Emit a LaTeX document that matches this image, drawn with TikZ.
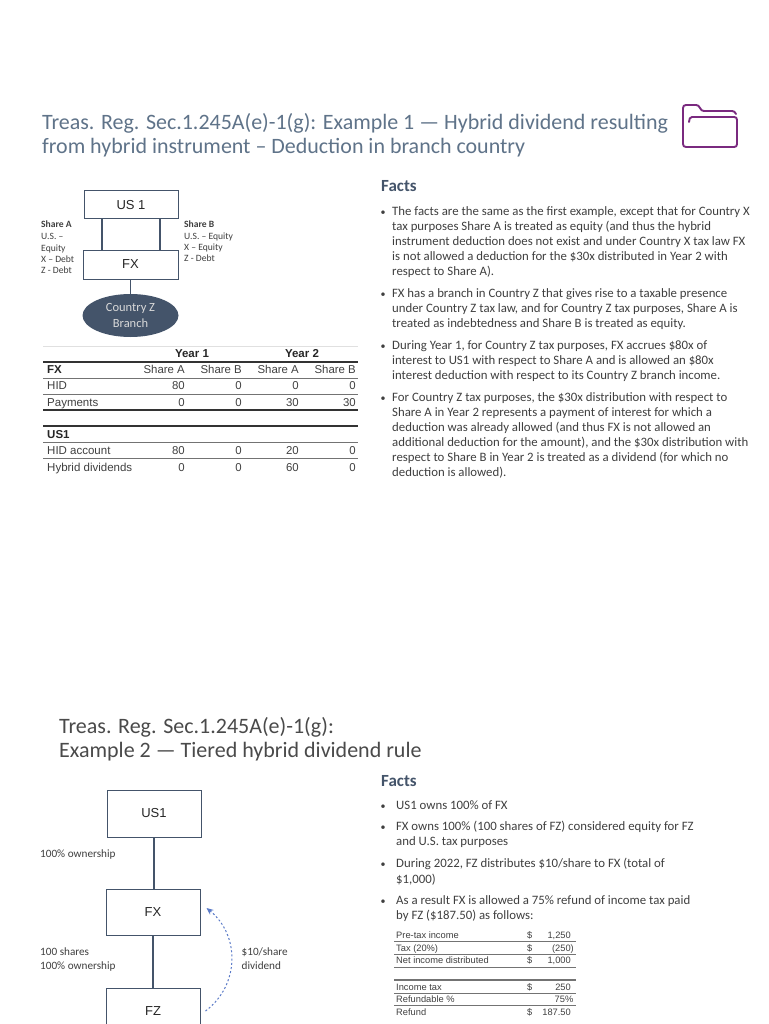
\documentclass[tikz,border=0pt]{standalone}
\usepackage{fontspec}
\setmainfont{Carlito}
\newfontfamily\arialf{Liberation Sans}
\usetikzlibrary{arrows.meta,shapes.geometric}
\definecolor{slate}{HTML}{44546A}
\definecolor{titleblue}{HTML}{5F7389}
\definecolor{titlegrey}{HTML}{4A4A4A}
\definecolor{bodygrey}{HTML}{3F3F3F}
\definecolor{purp}{HTML}{7A2A7F}
\definecolor{dotblue}{HTML}{5B7BC8}
\tikzset{
  x=1pt,y=-1pt,
  tline/.style={anchor=base west,inner sep=0pt,font=\fontsize{21.95}{24}\selectfont,text=titleblue},
  tlinetwo/.style={anchor=base west,inner sep=0pt,font=\fontsize{22}{24}\selectfont,text=titlegrey},
  head/.style={anchor=base west,inner sep=0pt,font=\fontsize{17}{18}\selectfont\bfseries,text=slate},
  body/.style={anchor=base west,inner sep=0pt,font=\fontsize{12.8}{15}\selectfont,text=bodygrey},
  bul/.style={anchor=base,inner sep=0pt,font=\fontsize{10}{15}\selectfont,text=bodygrey},
  lab/.style={anchor=base west,inner sep=0pt,font=\fontsize{9.6}{12}\selectfont,text=bodygrey},
  labb/.style={anchor=base west,inner sep=0pt,font=\fontsize{9.6}{12}\selectfont\bfseries,text=bodygrey},
  labtwo/.style={anchor=base west,inner sep=0pt,font=\fontsize{11.2}{13}\selectfont,text=bodygrey},
  ent/.style={draw=slate,line width=1pt,fill=white,inner sep=0pt,font=\arialf\fontsize{13}{16}\selectfont,text=black!85},
  conn/.style={draw=slate,line width=1.6pt},
  cellL/.style={anchor=base west,inner sep=0pt,font=\arialf\fontsize{11.5}{14}\selectfont,text=black!75},
  cellB/.style={anchor=base west,inner sep=0pt,font=\arialf\fontsize{11.5}{14}\selectfont\bfseries,text=black!85},
  cellR/.style={anchor=base east,inner sep=0pt,font=\arialf\fontsize{11.4}{14}\selectfont,text=black!75},
  cellY/.style={anchor=base,inner sep=0pt,font=\arialf\fontsize{11.5}{14}\selectfont\bfseries,text=black!85},
  smL/.style={anchor=base west,inner sep=0pt,font=\arialf\fontsize{9.3}{12}\selectfont,text=black!75},
  smR/.style={anchor=base east,inner sep=0pt,font=\arialf\fontsize{9.3}{12}\selectfont,text=black!75},
  rulethick/.style={draw=black!80,line width=1.1pt},
  rulethin/.style={draw=black!55,line width=0.9pt},
  rulesm/.style={draw=black!55,line width=0.8pt},
  dotarrow/.style={draw=dotblue,line width=1pt,dash pattern=on 2pt off 2.2pt,-{Stealth[length=7pt,width=6pt]}},
  folder/.style={draw=purp,line width=1.9pt,line cap=round,line join=round},
}
\begin{document}
\begin{tikzpicture}
\useasboundingbox (0,0) rectangle (768,1024);
\clip (0,0) rectangle (768,1024);
\fill[white] (0,0) rectangle (768,1024);

% Title 1
\node[tline] (t1a) at (42,130) {Treas. Reg. Sec.1.245A(e)-1(g): Example 1 — Hybrid dividend resulting};
\node[tline] (t1b) at (42,154) {from hybrid instrument – Deduction in branch country};

% Folder
\draw[folder] (686,105) -- (696,105) .. controls (698,105) and (699,106) .. (700,108) .. controls (701,110) and (702,111) .. (704,111) -- (732,111) .. controls (734,111) and (735,112) .. (736,114);
\draw[folder] (686,105) .. controls (684,105) and (683,106) .. (683,108) -- (683,144) .. controls (683,146) and (684,147) .. (686,147) -- (734,147) .. controls (736,147) and (737,146) .. (737,144) -- (737,120) .. controls (737,118) and (736,117) .. (734,117) -- (692,117) .. controls (690,117) and (689,119) .. (689,122);

% Diagram 1
\node[ent,minimum width=94pt,minimum height=28pt] (us) at (131,205) {US 1};
\node[ent,minimum width=95pt,minimum height=29pt] (fx) at (130.5,264.5) {FX};
\node[ellipse,fill=slate,minimum width=96pt,minimum height=43pt,inner sep=0pt,align=center,font=\fontsize{12.5}{15.5}\selectfont,text=white!85!black] (branch) at (130.5,315.5) {Country Z\\Branch};
\draw[conn] ([xshift=-29pt]us.south) -- ([xshift=-29pt]us.south |- fx.north);
\draw[conn] ([xshift=29pt]us.south) -- ([xshift=29pt]us.south |- fx.north);
\draw[conn] (fx.south) -- (branch.north);

\node[labb] (sa0) at (41,228) {Share A};
\node[lab] (sa1) at (41,240) {U.S. –};
\node[lab] (sa2) at (41,251.5) {Equity};
\node[lab] (sa3) at (41,262.5) {X – Debt};
\node[lab] (sa4) at (41,273.5) {Z - Debt};
\node[labb] (sb0) at (184,227) {Share B};
\node[lab] (sb1) at (184,239.5) {U.S. – Equity};
\node[lab] (sb2) at (184,250.5) {X – Equity};
\node[lab] (sb3) at (184,261.5) {Z - Debt};

% Table 1
\draw[draw=black!12,line width=0.6pt] (43,346) -- (358,346);
\draw[rulethick] (43,362) -- (358,362);
\draw[rulethin] (43,378) -- (358,378);
\draw[rulethin] (43,394) -- (358,394);
\draw[rulethick] (43,410) -- (358,410);
\draw[rulethick] (43,426) -- (358,426);
\draw[rulethin] (43,442) -- (358,442);
\draw[rulethin] (43,458) -- (358,458);

\node[cellY] (y1) at (192,357) {Year 1};
\node[cellY] (y2) at (302,357) {Year 2};
\node[cellB] (rfx) at (47,373.5) {FX};
\node[cellR] (h1) at (185,373.5) {Share A};
\node[cellR] (h2) at (242,373.5) {Share B};
\node[cellR] (h3) at (299,373.5) {Share A};
\node[cellR] (h4) at (356,373.5) {Share B};
\node[cellL] (rhid) at (47,389.5) {HID};
\node[cellR] (a1) at (185,389.5) {80};
\node[cellR] (a2) at (242,389.5) {0};
\node[cellR] (a3) at (299,389.5) {0};
\node[cellR] (a4) at (356,389.5) {0};
\node[cellL] (rpay) at (47,406) {Payments};
\node[cellR] (b1) at (185,406) {0};
\node[cellR] (b2) at (242,406) {0};
\node[cellR] (b3) at (299,406) {30};
\node[cellR] (b4) at (356,406) {30};
\node[cellB] (rus) at (47,438.5) {US1};
\node[cellL] (racc) at (47,454.5) {HID account};
\node[cellR] (c1) at (185,454.5) {80};
\node[cellR] (c2) at (242,454.5) {0};
\node[cellR] (c3) at (299,454.5) {20};
\node[cellR] (c4) at (356,454.5) {0};
\node[cellL] (rdiv) at (47,471) {Hybrid dividends};
\node[cellR] (d1) at (185,471) {0};
\node[cellR] (d2) at (242,471) {0};
\node[cellR] (d3) at (299,471) {60};
\node[cellR] (d4) at (356,471) {0};

% Facts 1
\node[head] (f1) at (381,192) {Facts};
\node[bul] (b1a) at (383,215) {•};
\node[body] (p1) at (392,215) {The facts are the same as the first example, except that for Country X};
\node[body] (p2) at (392,230) {tax purposes Share A is treated as equity (and thus the hybrid};
\node[body] (p3) at (392,245) {instrument deduction does not exist and under Country X tax law FX};
\node[body] (p4) at (392,260) {is not allowed a deduction for the \$30x distributed in Year 2 with};
\node[body] (p5) at (392,275) {respect to Share A).};
\node[bul] (b1b) at (383,297) {•};
\node[body] (p6) at (392,297) {FX has a branch in Country Z that gives rise to a taxable presence};
\node[body] (p7) at (392,312.5) {under Country Z tax law, and for Country Z tax purposes, Share A is};
\node[body] (p8) at (392,327.5) {treated as indebtedness and Share B is treated as equity.};
\node[bul] (b1c) at (383,349) {•};
\node[body] (p9) at (392,349) {During Year 1, for Country Z tax purposes, FX accrues \$80x of};
\node[body] (p10) at (392,364) {interest to US1 with respect to Share A and is allowed an \$80x};
\node[body] (p11) at (392,379) {interest deduction with respect to its Country Z branch income.};
\node[bul] (b1d) at (383,401) {•};
\node[body] (p12) at (392,401) {For Country Z tax purposes, the \$30x distribution with respect to};
\node[body] (p13) at (392,416) {Share A in Year 2 represents a payment of interest for which a};
\node[body] (p14) at (392,431) {deduction was already allowed (and thus FX is not allowed an};
\node[body] (p15) at (392,446) {additional deduction for the amount), and the \$30x distribution with};
\node[body] (p16) at (392,461) {respect to Share B in Year 2 is treated as a dividend (for which no};
\node[body] (p17) at (392,476) {deduction is allowed).};

% Title 2
\node[tlinetwo] (t2a) at (59,733) {Treas. Reg. Sec.1.245A(e)-1(g):};
\node[tlinetwo] (t2b) at (59,757) {Example 2 — Tiered hybrid dividend rule};

% Diagram 2
\node[ent,minimum width=94pt,minimum height=47pt] (us2) at (154,813.5) {US1};
\node[ent,minimum width=94pt,minimum height=46pt] (fx2) at (153,912) {FX};
\node[ent,minimum width=94pt,minimum height=46pt] (fz2) at (153,1011) {FZ};
\draw[conn] (us2.south) -- (us2.south |- fx2.north);
\draw[conn] (fx2.south) -- (fz2.north);
\draw[dotarrow] ([xshift=5pt]fz2.east) .. controls (240,985) and (240,935) .. ([xshift=6pt,yshift=4pt]fx2.east);
\node[labtwo] (o1) at (40,857) {100\% ownership};
\node[labtwo] (o2) at (40,955) {100 shares};
\node[labtwo] (o3) at (40,969) {100\% ownership};
\node[labtwo] (o4) at (241.5,955) {\$10/share};
\node[labtwo] (o5) at (241.5,969) {dividend};

% Facts 2
\node[head] (f2) at (381,786) {Facts};
\node[bul] (b2a) at (383,809) {•};
\node[body] (q1) at (396,809) {US1 owns 100\% of FX};
\node[bul] (b2b) at (383,830) {•};
\node[body] (q2) at (396,830) {FX owns 100\% (100 shares of FZ) considered equity for FZ};
\node[body] (q3) at (396,845) {and U.S. tax purposes};
\node[bul] (b2c) at (383,867) {•};
\node[body] (q4) at (396,867) {During 2022, FZ distributes \$10/share to FX (total of};
\node[body] (q5) at (396,883) {\$1,000)};
\node[bul] (b2d) at (383,904) {•};
\node[body] (q6) at (396,904) {As a result FX is allowed a 75\% refund of income tax paid};
\node[body] (q7) at (396,919) {by FZ (\$187.50) as follows:};

% Table 2
\draw[rulesm] (394,941) -- (576,941);
\draw[rulesm] (394,954) -- (576,954);
\draw[rulesm] (394,967) -- (576,967);
\draw[rulethin,line width=1.1pt] (394,980) -- (576,980);
\draw[rulesm] (394,993) -- (576,993);
\draw[rulesm] (394,1005) -- (576,1005);
\node[smL] (s1) at (396,938.5) {Pre-tax income};
\node[smL] (s2) at (396,951.5) {Tax (20\%)};
\node[smL] (s3) at (396,963.5) {Net income distributed};
\node[smL] (s4) at (396,990.5) {Income tax};
\node[smL] (s5) at (396,1002.5) {Refundable \%};
\node[smL] (s6) at (396,1015.5) {Refund};
\node[smL] (u1) at (527,938.5) {\$};
\node[smL] (u2) at (527,951.5) {\$};
\node[smL] (u3) at (527,963.5) {\$};
\node[smL] (u4) at (527,990.5) {\$};
\node[smL] (u6) at (527,1015.5) {\$};
\node[smR] (v1) at (571,938.5) {1,250};
\node[smR] (v2) at (574,951.5) {(250)};
\node[smR] (v3) at (571,963.5) {1,000};
\node[smR] (v4) at (571,990.5) {250};
\node[smR] (v5) at (573.5,1002.5) {75\%};
\node[smR] (v6) at (571,1015.5) {187.50};
\end{tikzpicture}
\end{document}
